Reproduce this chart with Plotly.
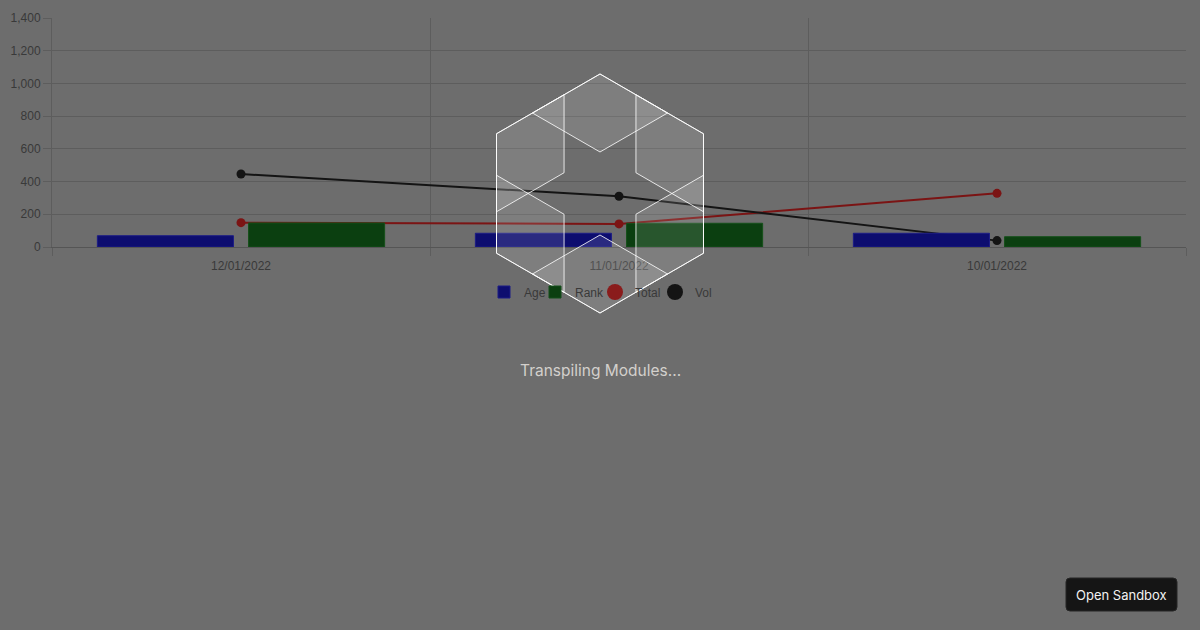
import math
import plotly.graph_objects as go

# ---------------- data ----------------
categories = ["12/01/2022", "11/01/2022", "10/01/2022"]
age = [69, 84, 84]
rank = [147, 145, 63]
total = [149, 141, 328]
vol = [446, 310, 39]
y_ticks = [0, 200, 400, 600, 800, 1000, 1200, 1400]

# ---------------- layout constants ----------------
W, H = 1200, 630
L, R, T, B = 52, 14, 18, 383
PW, PH = W - L - R, H - T - B

BG = "#6d6d6d"
GRID = "#5d5d5d"
TXT = "#393939"
AGE_C = "#0d0d6f"
RANK_C = "#0b3f10"
TOTAL_C = "#7b1414"
VOL_C = "#141414"


def px(x):
    return (x - L) / PW


def py(y):
    return (H - B - y) / PH


xs = list(range(len(categories)))

fig = go.Figure()

# line series (drawn below bars)
fig.add_trace(go.Scatter(x=xs, y=total, mode="lines+markers", name="Total",
                         line=dict(color=TOTAL_C, width=2),
                         marker=dict(size=9, color=TOTAL_C), showlegend=False))
fig.add_trace(go.Scatter(x=xs, y=vol, mode="lines+markers", name="Vol",
                         line=dict(color=VOL_C, width=2),
                         marker=dict(size=9, color=VOL_C), showlegend=False))

# bar series on an overlaying axis so they render above the lines
fig.add_trace(go.Bar(x=xs, y=age, name="Age", yaxis="y2", legendrank=1, legendwidth=6,
                     marker=dict(color=AGE_C, line=dict(color="#1c1c86", width=1))))
fig.add_trace(go.Bar(x=xs, y=rank, name="Rank", yaxis="y2", legendrank=2, legendwidth=15,
                     marker=dict(color=RANK_C, line=dict(color="#15501a", width=1))))

# legend entries for the line series (point-style circles)
fig.add_trace(go.Scatter(x=[None], y=[None], mode="markers", name="Total", legendrank=3,
                         legendwidth=15, marker=dict(size=16, color="#8a1c1c")))
fig.add_trace(go.Scatter(x=[None], y=[None], mode="markers", name="Vol", legendrank=4,
                         legendwidth=20, marker=dict(size=16, color=VOL_C)))

# ---------------- overlay logo (hexagon made of six clipped hexagons) ----------------
CX, CY, RO, RI = 600, 193.5, 119.5, 78


def hexagon(cx, cy, r):
    return [(cx + r * math.cos(math.radians(-90 + 60 * k)),
             cy + r * math.sin(math.radians(-90 + 60 * k))) for k in range(6)]


def clip(subject, clipper):
    out = subject
    n = len(clipper)
    cx = sum(p[0] for p in clipper) / n
    cy = sum(p[1] for p in clipper) / n
    for i in range(n):
        a, b = clipper[i], clipper[(i + 1) % n]

        def side(p):
            return (b[0] - a[0]) * (p[1] - a[1]) - (b[1] - a[1]) * (p[0] - a[0])

        ref = side((cx, cy))

        def inside(p):
            return side(p) * ref >= 0

        def inter(p, q):
            sp, sq = side(p), side(q)
            t = sp / (sp - sq)
            return (p[0] + t * (q[0] - p[0]), p[1] + t * (q[1] - p[1]))

        inp = out
        out = []
        for j in range(len(inp)):
            cur, prev = inp[j], inp[j - 1]
            if inside(cur):
                if not inside(prev):
                    out.append(inter(prev, cur))
                out.append(cur)
            elif inside(prev):
                out.append(inter(prev, cur))
        if not out:
            break
    return out


def path_of(pts):
    return "M " + " L ".join(f"{px(x):.5f},{py(y):.5f}" for x, y in pts) + " Z"


outer = hexagon(CX, CY, RO)
shapes = []
for vx, vy in outer:
    poly = clip(hexagon(vx, vy, RI), outer)
    shapes.append(dict(type="path", path=path_of(poly), xref="paper", yref="paper",
                       fillcolor="rgba(255,255,255,0.12)",
                       line=dict(color="rgba(255,255,255,0.82)", width=1), layer="above"))
shapes.append(dict(type="path", path=path_of(outer), xref="paper", yref="paper",
                   line=dict(color="rgba(255,255,255,0.85)", width=1), layer="above"))

# "Open Sandbox" button (rounded rectangle)
bx0, by0, bx1, by1, rr = 1066, 578, 1177, 611, 4
btn = (f"M {px(bx0 + rr)},{py(by0)} L {px(bx1 - rr)},{py(by0)} "
       f"Q {px(bx1)},{py(by0)} {px(bx1)},{py(by0 + rr)} L {px(bx1)},{py(by1 - rr)} "
       f"Q {px(bx1)},{py(by1)} {px(bx1 - rr)},{py(by1)} L {px(bx0 + rr)},{py(by1)} "
       f"Q {px(bx0)},{py(by1)} {px(bx0)},{py(by1 - rr)} L {px(bx0)},{py(by0 + rr)} "
       f"Q {px(bx0)},{py(by0)} {px(bx0 + rr)},{py(by0)} Z")
shapes.append(dict(type="path", path=btn, xref="paper", yref="paper",
                   fillcolor="#151515", line=dict(color="#262626", width=1), layer="above"))

annotations = [
    dict(text="Transpiling Modules...", x=px(600.5), y=py(370), xref="paper", yref="paper",
         showarrow=False, xanchor="center", yanchor="middle",
         font=dict(family="Inter", size=15.5, color="#d3d0cc")),
    dict(text="Open Sandbox", x=px((bx0 + bx1) / 2), y=py((by0 + by1) / 2 + 0.5),
         xref="paper", yref="paper", showarrow=False, xanchor="center", yanchor="middle",
         font=dict(family="Inter", size=13, color="#f2f2f2")),
]

fig.update_layout(
    width=W, height=H,
    margin=dict(l=L, r=R, t=T, b=B, pad=0),
    paper_bgcolor=BG, plot_bgcolor=BG,
    font=dict(family="Liberation Sans, Arial, sans-serif", size=12, color=TXT),
    barmode="group", bargap=0.2, bargroupgap=0.1,
    showlegend=True,
    legend=dict(orientation="h", x=px(602), xanchor="center", y=py(292), yanchor="middle",
                font=dict(size=12, color=TXT), itemwidth=30, bgcolor="rgba(0,0,0,0)",
                itemclick=False, itemdoubleclick=False),
    xaxis=dict(range=[-0.5, 2.5], tickvals=xs, ticktext=categories, showgrid=False,
               zeroline=False, ticks="outside", ticklen=8, tickcolor="rgba(0,0,0,0)",
               showline=True, linecolor="#555555", linewidth=1,
               minor=dict(tick0=-0.5, dtick=1, showgrid=True, gridcolor=GRID, gridwidth=1,
                          ticks="outside", ticklen=8, tickcolor=GRID),
               fixedrange=True),
    yaxis=dict(range=[0, 1400], tickvals=y_ticks, tickformat=",", showgrid=True,
               gridcolor=GRID, zeroline=False, ticks="outside", ticklen=8, tickcolor=GRID,
               showline=True, linecolor=GRID, fixedrange=True),
    yaxis2=dict(range=[0, 1400], overlaying="y", visible=False, fixedrange=True),
    shapes=shapes,
    annotations=annotations,
)

fig.write_html(
    "out.html",
    config={"displayModeBar": False},
    post_script=("document.body.style.margin='0';document.body.style.overflow='hidden';"
                 "document.documentElement.style.background='" + BG + "';"),
)
